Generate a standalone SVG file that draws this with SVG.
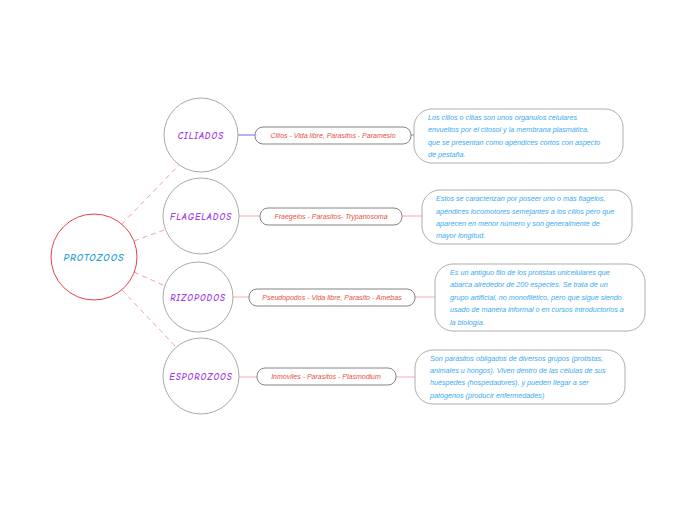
<svg xmlns="http://www.w3.org/2000/svg" width="697" height="520" viewBox="0 0 697 520">
<style>
.c{fill:#fff;stroke:#aaa;stroke-width:1}
.root{fill:#fff;stroke:#e8404a;stroke-width:1}
.t{font-family:"Comic Neue","Liberation Sans",sans-serif;font-style:italic;font-weight:bold;font-size:9px;fill:#a23de6;text-anchor:middle;letter-spacing:1px}
.p{fill:#fff;stroke:#666;stroke-width:0.8}
.pt{font-family:"Liberation Sans",sans-serif;font-style:italic;font-size:7px;fill:#e84d40;text-anchor:middle}
.d{fill:#fff;stroke:#999;stroke-width:0.8}
.dt{font-family:"Liberation Sans",sans-serif;font-style:italic;font-size:7.2px;fill:#3aaaf0}
.dash{stroke:#f3a0a8;stroke-width:1;stroke-dasharray:5,4;fill:none}
.lk{stroke:#f7b8bb;stroke-width:1.2;fill:none}
</style>
<g id="connectors">
<line class="dash" x1="122" y1="224" x2="179" y2="165"/>
<line class="dash" x1="134" y1="241" x2="164" y2="230"/>
<line class="dash" x1="134" y1="272" x2="165" y2="286"/>
<line class="dash" x1="122" y1="290" x2="177" y2="348"/>
<line x1="238" y1="135" x2="255" y2="135" stroke="#8a7cf0" stroke-width="1.2"/>
<line x1="411" y1="135" x2="414" y2="135" stroke="#3aaaf0" stroke-width="1"/>
<line class="lk" x1="239" y1="216" x2="260" y2="216"/>
<line class="lk" x1="402" y1="216" x2="422" y2="216"/>
<line class="lk" x1="232" y1="297" x2="249" y2="297"/>
<line class="lk" x1="415" y1="297" x2="435" y2="297"/>
<line class="lk" x1="238" y1="377" x2="257" y2="377"/>
<line class="lk" x1="396" y1="377" x2="415" y2="377"/>
</g>
<g id="protozoos"><circle class="root" cx="94" cy="257" r="43"/><text x="94" y="261" class="t" style="fill:#2a9fd8;font-size:10px">PROTOZOOS</text></g>
<g id="ciliados"><circle class="c" cx="201" cy="135" r="37"/><text x="201" y="139" class="t">CILIADOS</text></g>
<g id="flagelados"><circle class="c" cx="201" cy="216" r="38"/><text x="201" y="220" class="t">FLAGELADOS</text></g>
<g id="rizopodos"><circle class="c" cx="198" cy="297" r="35"/><text x="198" y="301" class="t">RIZOPODOS</text></g>
<g id="esporozoos"><circle class="c" cx="201" cy="376" r="38"/><text x="201" y="380" class="t">ESPOROZOOS</text></g>
<g id="p1"><rect class="p" x="255" y="127" width="156" height="17" rx="8"/><text x="333" y="138" class="pt">Cilios - Vida libre, Parasitos - Paramesio</text></g>
<g id="p2"><rect class="p" x="260" y="208" width="142" height="17" rx="8"/><text x="331" y="219" class="pt">Fraegelos - Parasitos- Trypanosoma</text></g>
<g id="p3"><rect class="p" x="249" y="289" width="166" height="17" rx="8"/><text x="332" y="300" class="pt">Pseudopodos - Vida libre, Parasito - Amebas</text></g>
<g id="p4"><rect class="p" x="257" y="368" width="139" height="17" rx="8"/><text x="326" y="379" class="pt">Inmoviles - Parasitos - Plasmodium</text></g>
<g id="d1"><rect class="d" x="414" y="109" width="209" height="54" rx="18"/>
<text class="dt" x="428" y="120">Los cilios o cilias  son unos orgánulos celulares</text>
<text class="dt" x="428" y="132">envueltos por el citosol y la membrana plasmática,</text>
<text class="dt" x="428" y="145">que se presentan como apéndices cortos con aspecto</text>
<text class="dt" x="428" y="157">de pestaña.</text></g>
<g id="d2"><rect class="d" x="422" y="190" width="210" height="54" rx="18"/>
<text class="dt" x="436" y="201">Estos se caracterizan por poseer uno o más flagelos,</text>
<text class="dt" x="436" y="214">apéndices locomotores semejantes a los cilios pero que</text>
<text class="dt" x="436" y="226">aparecen en menor número y son generalmente de</text>
<text class="dt" x="436" y="238">mayor longitud.</text></g>
<g id="d3"><rect class="d" x="435" y="264" width="210" height="67" rx="18"/>
<text class="dt" x="450" y="275">Es un antiguo filo de los protistas unicelulares que</text>
<text class="dt" x="450" y="287">abarca alrededor de 200 especies. Se trata de un</text>
<text class="dt" x="450" y="300">grupo artificial, no monofilético, pero que sigue siendo</text>
<text class="dt" x="450" y="312">usado de manera informal o en cursos introductorios a</text>
<text class="dt" x="450" y="325">la biología.</text></g>
<g id="d4"><rect class="d" x="415" y="350" width="210" height="54" rx="18"/>
<text class="dt" x="430" y="361">Son parásitos obligados de diversos grupos (protistas,</text>
<text class="dt" x="430" y="373">animales u hongos). Viven dentro de las células de sus</text>
<text class="dt" x="430" y="385">huéspedes (hospedadores), y pueden llegar a ser</text>
<text class="dt" x="430" y="398">patógenos (producir enfermedades)</text></g>
</svg>
